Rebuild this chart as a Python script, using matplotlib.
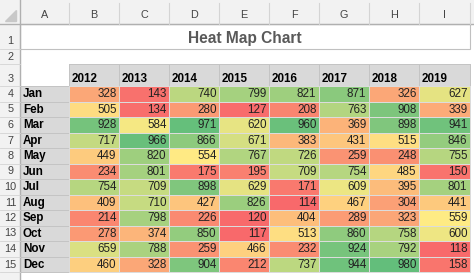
import numpy as np
import matplotlib
matplotlib.use("Agg")
import matplotlib.pyplot as plt
from matplotlib.colors import LinearSegmentedColormap, TwoSlopeNorm

plt.rcParams['font.family'] = ['Liberation Sans', 'DejaVu Sans']

# data
years = ['2012', '2013', '2014', '2015', '2016', '2017', '2018', '2019']
months = ['Jan', 'Feb', 'Mar', 'Apr', 'May', 'Jun',
          'Jul', 'Aug', 'Sep', 'Oct', 'Nov', 'Dec']
values = np.array([
    [328, 143, 740, 799, 821, 871, 326, 627],
    [505, 134, 280, 127, 208, 763, 908, 339],
    [928, 584, 971, 620, 960, 369, 898, 941],
    [717, 966, 866, 671, 383, 431, 515, 846],
    [449, 820, 554, 767, 726, 259, 248, 755],
    [234, 801, 175, 195, 709, 754, 485, 150],
    [754, 709, 898, 629, 171, 609, 395, 801],
    [409, 710, 427, 826, 114, 467, 304, 441],
    [214, 798, 226, 120, 404, 289, 323, 559],
    [278, 374, 850, 117, 513, 860, 758, 600],
    [659, 788, 259, 466, 232, 924, 792, 118],
    [460, 328, 904, 212, 737, 944, 980, 158],
])
col_letters = ['A', 'B', 'C', 'D', 'E', 'F', 'G', 'H', 'I']
title = 'Heat Map Chart'

# sheet geometry (pixels)
col_x = np.array([20, 69, 119, 169, 219, 269, 319, 369, 419, 470])
hdr_h = 24
row_top = [24, 49, 64]          # rows 1..3 top edges
data_y0, row_h = 86, 15.5
data_y = data_y0 + row_h * np.arange(len(months) + 1)

fig = plt.figure(figsize=(4.74, 2.8), dpi=100)
ax = fig.add_axes([0, 0, 1, 1])
ax.set_xlim(0, 474)
ax.set_ylim(280, 0)
ax.axis('off')

grid_c = '#d4d4d4'
# column header bar / row header strip
ax.fill_between([0, 474], 0, hdr_h, color='#f2f2f2', zorder=0)
ax.fill_between([0, col_x[0]], 0, 280, color='#f2f2f2', zorder=0)
ax.plot([0, 474], [hdr_h, hdr_h], color='#b0b0b0', lw=1)
ax.plot([col_x[0], col_x[0]], [0, 280], color='#b0b0b0', lw=1)
ax.fill([5, 16, 16], [21, 21, 10], color='#c8c8c8')
for i, letter in enumerate(col_letters):
    ax.plot([col_x[i + 1]] * 2, [3, hdr_h], color=grid_c, lw=0.8)
    ax.text((col_x[i] + col_x[i + 1]) / 2, 15, letter, ha='center', va='center',
            fontsize=7.8, color='#444444')

# row numbers
edges = list(row_top) + list(data_y)
for r in range(len(edges) - 1):
    ax.plot([0, col_x[0]], [edges[r + 1]] * 2, color=grid_c, lw=0.6)
    ax.text(10.5, edges[r + 1] - 7.5, str(r + 1), ha='center', va='center',
            fontsize=7.8, color='#444444')

# title box
ax.add_patch(plt.Rectangle((col_x[0], row_top[0]), col_x[-1] - col_x[0],
                           row_top[1] - row_top[0], fill=False,
                           ec='#c0c0c0', lw=0.8))
ax.text((col_x[0] + col_x[-1]) / 2, 38, title, ha='center', va='center',
        fontsize=11.2, fontweight='bold', color='#595959')

# year header cells
ax.pcolormesh(col_x[1:], [row_top[2], data_y0], np.zeros((1, len(years))),
              cmap=LinearSegmentedColormap.from_list('g', ['#d9d9d9', '#d9d9d9']),
              edgecolors='#c4c4c4', linewidth=0.6)
for j, y in enumerate(years):
    ax.text(col_x[j + 1] + 3, data_y0 - 7, y, ha='left', va='center',
            fontsize=8.4, fontweight='bold', color='black')

# month header cells
ax.pcolormesh(col_x[:2], data_y, np.zeros((len(months), 1)),
              cmap=LinearSegmentedColormap.from_list('g2', ['#d9d9d9', '#d9d9d9']),
              edgecolors='#c4c4c4', linewidth=0.6)
for i, m in enumerate(months):
    ax.text(col_x[0] + 3, (data_y[i] + data_y[i + 1]) / 2 + 0.5, m,
            ha='left', va='center', fontsize=8.4, fontweight='bold', color='black')

# heat map cells (Excel 3-colour scale)
cmap = LinearSegmentedColormap.from_list('rag', ['#F8696B', '#FFEB84', '#63BE7B'])
norm = TwoSlopeNorm(vcenter=np.percentile(values, 50), vmin=values.min(),
                    vmax=values.max())
ax.pcolormesh(col_x[1:], data_y, values, cmap=cmap, norm=norm,
              edgecolors='#dcdcdc', linewidth=0.6)
for i in range(len(months)):
    for j in range(len(years)):
        ax.text(col_x[j + 2] - 2.5, (data_y[i] + data_y[i + 1]) / 2 + 0.5,
                str(values[i, j]), ha='right', va='center', fontsize=8.4,
                color='#222222')

fig.savefig('out.png', dpi=100)
